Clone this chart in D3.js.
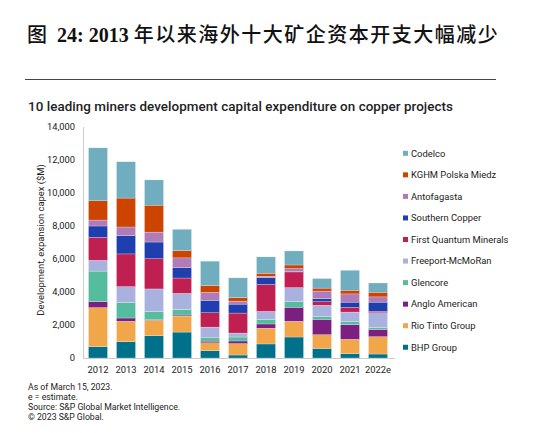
<!DOCTYPE html>
<html>
<head>
<meta charset="utf-8">
<script src="https://cdn.jsdelivr.net/npm/d3@7"></script>
<style>
  body { margin: 0; background: #fff; }
  svg { display: block; }
  .sans { font-family: Roboto, "Noto Sans", sans-serif; fill: #222; }
</style>
</head>
<body>
<svg id="chart" width="550" height="433"></svg>
<script>
var years = ['2012', '2013', '2014', '2015', '2016', '2017', '2018', '2019', '2020', '2021', '2022e'];

// stacked bottom to top
var companies = ['BHP Group', 'Rio Tinto Group', 'Anglo American', 'Glencore', 'Freeport-McMoRan',
  'First Quantum Minerals', 'Southern Copper', 'Antofagasta', 'KGHM Polska Miedz', 'Codelco'];

var colors = ['#00718a', '#f2a64a', '#7b1f80', '#55bd9e', '#a9b2de',
  '#c01f52', '#1f3fae', '#b07cb8', '#cc4400', '#6fadbf'];

// $M per company, one value per year
var bhp         = [690, 990, 1350, 1570, 440, 180, 850, 1270, 580, 260, 240];
var rioTinto    = [2360, 1230, 930, 970, 480, 690, 950, 950, 830, 870, 1050];
var anglo       = [360, 200, 50, 60, 100, 160, 260, 850, 930, 890, 440];
var glencore    = [1850, 930, 480, 340, 200, 240, 280, 340, 180, 200, 120];
var freeport    = [650, 970, 1370, 970, 650, 240, 480, 850, 670, 560, 890];
var firstQuantum = [1390, 1980, 1830, 930, 870, 1210, 1630, 950, 220, 280, 80];
var southern    = [690, 1110, 1010, 620, 750, 540, 420, 40, 180, 320, 560];
var antofagasta = [360, 520, 600, 600, 480, 180, 80, 160, 460, 500, 320];
var kghm        = [1170, 1750, 1630, 440, 420, 220, 180, 220, 180, 220, 280];
var codelco     = [3200, 2200, 1530, 1290, 1470, 1190, 990, 850, 580, 1210, 560];

var series = [bhp, rioTinto, anglo, glencore, freeport, firstQuantum, southern, antofagasta, kghm, codelco];

var yTicks = [0, 2000, 4000, 6000, 8000, 10000, 12000, 14000];

var footnotes = ['As of March 15, 2023.', 'e = estimate.',
  'Source: S&P Global Market Intelligence.', '\u00a9 2023 S&P Global.'];

var svg = d3.select('#chart');

// header: figure number in bold serif, chinese a bit lighter
var title = svg.append('text')
  .attr('x', 27).attr('y', 42)
  .style('white-space', 'pre')
  .style('font-family', '"Liberation Serif", "Noto Sans CJK SC", serif')
  .style('font-size', '20px').style('fill', '#111');
title.append('tspan').style('font-weight', 500).text('图');
title.append('tspan').style('font-weight', 'bold').text('  24: 2013 ');
title.append('tspan').style('font-weight', 500)
  .attr('textLength', 364).attr('lengthAdjust', 'spacing')
  .text('年以来海外十大矿企资本开支大幅减少');

svg.append('line')
  .attr('x1', 25).attr('x2', 496).attr('y1', 79.5).attr('y2', 79.5)
  .attr('stroke', '#444').attr('stroke-width', 1);

svg.append('text').attr('class', 'sans')
  .attr('x', 28).attr('y', 111)
  .attr('textLength', 425).attr('lengthAdjust', 'spacing')
  .style('font-size', '13.4px').style('font-weight', 500)
  .text('10 leading miners development capital expenditure on copper projects');

// chart
var table = years.map(function(y, i) {
  var row = {year: y};
  companies.forEach(function(c, j) { row[c] = series[j][i]; });
  return row;
});
var stacked = d3.stack().keys(companies)(table);

var x = d3.scaleBand().domain(years).range([84, 392]).paddingInner(0.32).paddingOuter(0.16);
var y = d3.scaleLinear().domain([0, 14000]).range([358, 126.7]);
var color = d3.scaleOrdinal().domain(companies).range(colors);

svg.append('g').selectAll('g')
  .data(stacked).join('g')
  .attr('fill', function(d) { return color(d.key); })
  .selectAll('rect')
  .data(function(d) { return d; }).join('rect')
  .attr('x', function(d) { return x(d.data.year); })
  .attr('width', x.bandwidth())
  .attr('y', function(d) { return y(d[1]); })
  .attr('height', function(d) { return Math.max(0, y(d[0]) - y(d[1])); })
  .attr('stroke', '#fff').attr('stroke-width', 0.4).attr('stroke-opacity', 0.6);

var yAxis = svg.append('g').attr('transform', 'translate(83,0)')
  .call(d3.axisLeft(y).tickValues(yTicks).tickSize(0).tickPadding(8).tickFormat(d3.format(',')));
yAxis.select('.domain').attr('stroke', '#ccc');
yAxis.selectAll('text').attr('class', 'sans').style('font-size', '9.3px').attr('fill', '#333');

var xAxis = svg.append('g').attr('transform', 'translate(0,358)')
  .call(d3.axisBottom(x).tickSize(0).tickPadding(8));
xAxis.select('.domain').attr('stroke', '#ccc').attr('d', 'M83,0.5H395');
xAxis.selectAll('text').attr('class', 'sans').style('font-size', '9.4px').attr('fill', '#222');

svg.append('text').attr('class', 'sans')
  .attr('transform', 'translate(41,240) rotate(-90)')
  .attr('text-anchor', 'middle').attr('dy', '0.35em')
  .style('font-size', '9.4px')
  .text('Development, expansion capex ($M)');

// legend, top item is last series
var legendItems = companies.slice().reverse();
var legend = svg.append('g').selectAll('g')
  .data(legendItems).join('g')
  .attr('transform', function(d, i) { return 'translate(403,' + (153.3 + i * 21.55) + ')'; });
legend.append('rect')
  .attr('x', 0).attr('y', -2.5).attr('width', 5).attr('height', 5)
  .attr('fill', function(d) { return color(d); });
legend.append('text').attr('class', 'sans')
  .attr('x', 8).attr('dy', '0.35em')
  .style('font-size', '9.4px')
  .text(function(d) { return d; });

svg.append('g').selectAll('text')
  .data(footnotes).join('text')
  .attr('class', 'sans')
  .attr('x', 28).attr('y', function(d, i) { return 390 + i * 10; })
  .style('font-size', '8.7px')
  .text(function(d) { return d; });
</script>
</body>
</html>
